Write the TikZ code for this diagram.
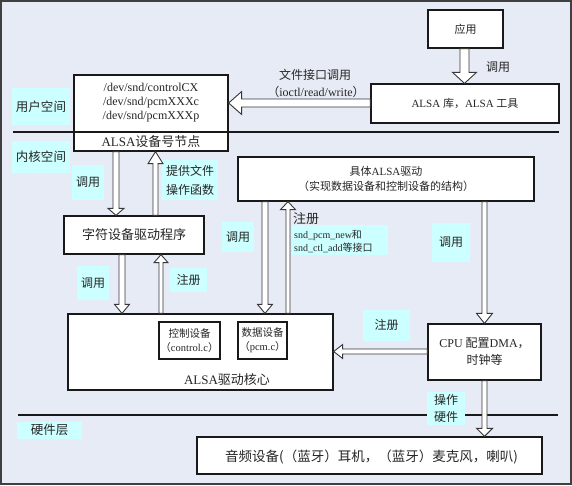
\documentclass[tikz,border=0pt]{standalone}
\usepackage{fontspec}
\setmainfont{Liberation Serif}
\newfontfamily\cjk{Noto Sans CJK SC}
\usetikzlibrary{calc}
\definecolor{bgc}{RGB}{231,235,245}
\definecolor{hlc}{RGB}{204,255,255}
\definecolor{lnc}{RGB}{25,25,25}
\definecolor{arc}{RGB}{55,55,55}
\newcommand\fsz[1]{\fontsize{#1}{#1}\selectfont}
\begin{document}
\begin{tikzpicture}[x=1pt,y=-1pt,
  arrsw/.store in=\hsw, arrhw/.store in=\hhw, arrhl/.store in=\hhl,
  arrsw=3, arrhw=8, arrhl=9,
  harrow/.style={draw=arc, line width=0.9pt, fill=white, line join=miter,
    to path={
      let \p1=(\tikztostart), \p2=(\tikztotarget),
          \n1={veclen(\x2-\x1,\y2-\y1)},
          \n2={(\x2-\x1)/\n1}, \n3={(\y2-\y1)/\n1}
      in
      ({\x1-\n3*\hsw},{\y1+\n2*\hsw}) --
      ({\x2-\n2*\hhl-\n3*\hsw},{\y2-\n3*\hhl+\n2*\hsw}) --
      ({\x2-\n2*\hhl-\n3*\hhw},{\y2-\n3*\hhl+\n2*\hhw}) --
      (\x2,\y2) --
      ({\x2-\n2*\hhl+\n3*\hhw},{\y2-\n3*\hhl-\n2*\hhw}) --
      ({\x2-\n2*\hhl+\n3*\hsw},{\y2-\n3*\hhl-\n2*\hsw}) --
      ({\x1+\n3*\hsw},{\y1-\n2*\hsw}) -- cycle
    }},
  box/.style={draw=lnc, line width=1.3pt, fill=white, inner sep=0pt},
  hlbox/.style={fill=hlc, inner sep=0pt},
  txt/.style={inner sep=0pt, text=black!85, align=center},
  sep/.style={draw=lnc, line width=1.4pt}
]
% background and frame
\path[fill=bgc, draw=black!75, line width=1.5pt] (1,1) rectangle (571,484);
\useasboundingbox (0,0) rectangle (572,485);

% cyan highlight labels
\node[hlbox, minimum width=58, minimum height=37] (userbg) at (41,106.5) {};
\node[hlbox, minimum width=58, minimum height=32] (kernbg) at (41,157) {};
\node[hlbox, minimum width=65, minimum height=17] (hwbg) at (49.5,430) {};
\node[hlbox, minimum width=32, minimum height=35] (call2bg) at (88,182.5) {};
\node[hlbox, minimum width=56, minimum height=40] (provbg) at (190,180) {};
\node[hlbox, minimum width=32, minimum height=34] (call3bg) at (93,283) {};
\node[hlbox, minimum width=37, minimum height=24] (reg1bg) at (188.5,280) {};
\node[hlbox, minimum width=32, minimum height=30] (call4bg) at (238,237) {};
\node[hlbox, minimum width=96, minimum height=30] (sndfbg) at (340,240) {};
\node[hlbox, minimum width=38, minimum height=39] (call5bg) at (451,242.5) {};
\node[hlbox, minimum width=47, minimum height=31] (reg3bg) at (386.5,325) {};

% boxes
\node[box, minimum width=75, minimum height=38] (app) at (465.5,29) {};
\node[box, minimum width=188, minimum height=39] (lib) at (465,103.5) {};
\node[box, minimum width=154, minimum height=76] (dev) at (151,113) {};
\node[box, minimum width=140, minimum height=38] (chr) at (134,235) {};
\node[box, minimum width=296, minimum height=44] (spec) at (386,179) {};
\node[box, minimum width=265, minimum height=76] (core) at (200.5,352) {};
\node[box, minimum width=61, minimum height=37] (ctl) at (189.5,340.5) {};
\node[box, minimum width=49, minimum height=37] (dat) at (262.5,340.5) {};
\node[box, minimum width=113, minimum height=56] (cpu) at (484.5,352) {};
\node[box, minimum width=345, minimum height=37] (snd) at (369.5,455.5) {};

% separator lines
\coordinate (l1a) at (13,132); \coordinate (l1b) at (559,132);
\coordinate (l2a) at (18,415); \coordinate (l2b) at (558,415);
\draw[sep] (l1a) -- (l1b);
\draw[sep] (l2a) -- (l2b);
\node[hlbox, minimum width=38, minimum height=33] (ophwbg) at (446,408.5) {};

% arrow positions
\coordinate (xa1) at (464.5,0);
\coordinate (ya2) at (0,103);
\coordinate (xa3) at (116,0);
\coordinate (xa4) at (155.5,0);
\coordinate (xa5) at (122,0);
\coordinate (xa6) at (161,0);
\coordinate (xa7) at (265,0);
\coordinate (xa8) at (288,0);
\coordinate (xa9) at (484.5,0);
\coordinate (ya10) at (0,351.5);

\draw[harrow, arrsw=4.5, arrhw=12, arrhl=11] (xa1 |- app.south) to (xa1 |- lib.north);
\draw[harrow, arrsw=4, arrhw=11.5, arrhl=13] (lib.west |- ya2) to (dev.east |- ya2);
\draw[harrow, arrsw=3, arrhw=8, arrhl=7] (xa3 |- dev.south) to (xa3 |- chr.north);
\draw[harrow, arrsw=2.5, arrhw=7.5, arrhl=12] (xa4 |- chr.north) to (xa4 |- dev.south);
\draw[harrow, arrsw=3, arrhw=7.5, arrhl=9] (xa5 |- chr.south) to (xa5 |- core.north);
\draw[harrow, arrsw=2, arrhw=7, arrhl=8] (xa6 |- core.north) to (xa6 |- chr.south);
\draw[harrow, arrsw=3, arrhw=7.5, arrhl=9] (xa7 |- spec.south) to (xa7 |- core.north);
\draw[harrow, arrsw=2, arrhw=7.5, arrhl=8] (xa8 |- core.north) to (xa8 |- spec.south);
\draw[harrow, arrsw=2.5, arrhw=8, arrhl=10] (xa9 |- spec.south) to (xa9 |- cpu.north);
\draw[harrow, arrsw=2.5, arrhw=7, arrhl=9] (cpu.west |- ya10) to (core.east |- ya10);
\draw[harrow, arrsw=2.5, arrhw=8, arrhl=8] (xa9 |- cpu.south) to (xa9 |- snd.north);

% texts
\node[txt, font=\cjk\fsz{11}] (apptxt) at (app.center) {应用};
\node[txt, font=\cjk\fsz{12}] (call1) at (498,67) {调用};
\node[txt, font=\fsz{11}] (libtxt) at (lib.center) {ALSA {\cjk 库，}ALSA {\cjk 工具}};
\node[txt, font=\cjk\fsz{12}] (file1) at (315,75) {文件接口调用};
\node[txt, font=\fsz{12}] (file2) at (316,92) {{\cjk （}ioctl/read/write{\cjk ）}};
\node[txt, font=\fontsize{12}{14}\selectfont] (devtxt) at (151,103) {/dev/snd/controlCX\\/dev/snd/pcmXXXc\\/dev/snd/pcmXXXp};
\node[txt, font=\fsz{13}] (devnum) at (151,142) {ALSA{\cjk 设备号节点}};
\node[txt, font=\cjk\fsz{12.5}] (user) at (userbg.center) {用户空间};
\node[txt, font=\cjk\fsz{12.5}] (kern) at (kernbg.center) {内核空间};
\node[txt, font=\cjk\fsz{12.5}] (hw) at (hwbg.center) {硬件层};
\node[txt, font=\cjk\fsz{12}] (call2) at (call2bg.center) {调用};
\node[txt, font=\cjk\fontsize{12}{19}\selectfont] (prov) at (provbg.center) {提供文件\\操作函数};
\node[txt, font=\cjk\fsz{13}] (chrtxt) at (chr.center) {字符设备驱动程序};
\node[txt, font=\cjk\fsz{12}] (call3) at (call3bg.center) {调用};
\node[txt, font=\cjk\fsz{12}] (reg1) at (reg1bg.center) {注册};
\node[txt, font=\cjk\fsz{12}] (call4) at (call4bg.center) {调用};
\node[txt, font=\fontsize{11}{15}\selectfont] (spectxt) at (spec.center) {{\cjk 具体}ALSA{\cjk 驱动}\\{\cjk （实现数据设备和控制设备的结构）}};
\node[txt, font=\cjk\fsz{13}] (reg2) at (306,219) {注册};
\node[txt, font=\fontsize{10}{13}\selectfont, align=left, anchor=west] (sndf) at (294,241) {snd\_pcm\_new{\cjk 和}\\snd\_ctl\_add{\cjk 等接口}};
\node[txt, font=\cjk\fsz{12}] (call5) at (call5bg.center) {调用};
\node[txt, font=\cjk\fsz{12}] (reg3) at (reg3bg.center) {注册};
\node[txt, font=\fontsize{10.5}{14}\selectfont] (ctltxt) at (ctl.center) {{\cjk 控制设备}\\{\cjk （}control.c{\cjk ）}};
\node[txt, font=\fontsize{10.5}{14}\selectfont] (dattxt) at (dat.center) {{\cjk 数据设备}\\{\cjk （}pcm.c{\cjk ）}};
\node[txt, font=\fsz{13}] (coretxt) at (227,380) {ALSA{\cjk 驱动核心}};
\node[txt, font=\fontsize{12}{17}\selectfont] (cputxt) at (cpu.center) {CPU {\cjk 配置}DMA{\cjk ，}\\{\cjk 时钟等}};
\node[txt, font=\cjk\fontsize{12}{17}\selectfont] (ophw) at (ophwbg.center) {操作\\硬件};
\node[txt, font=\cjk\fsz{13.5}, anchor=west] (sndtxt) at (225,457) {音频设备(（蓝牙）耳机，（蓝牙）麦克风，喇叭)};
\end{tikzpicture}
\end{document}
